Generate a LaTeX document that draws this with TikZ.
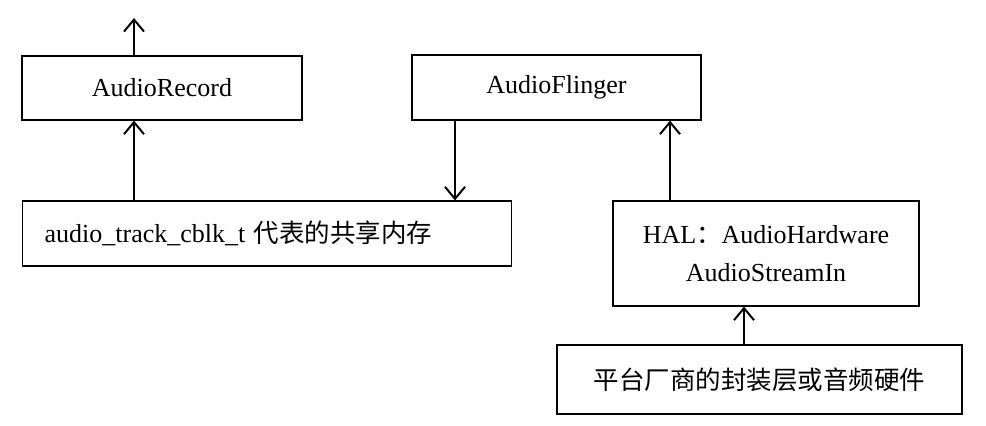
\documentclass[tikz,border=0pt]{standalone}
\usepackage{fontspec}
\setmainfont{Liberation Serif}
\newfontfamily\cjk[Scale=0.98]{Noto Sans CJK SC}
\usetikzlibrary{arrows.meta}
\begin{document}
\begin{tikzpicture}[x=1pt,y=-1pt,
  bx/.style={draw,line width=1.2pt,inner sep=0pt,font=\fontsize{26}{38}\selectfont},
  ar/.style={line width=1.6pt,-{Straight Barb[length=12pt,width=20pt,line width=2pt]}}]
\useasboundingbox (0,0) rectangle (986,426);
\node[bx,minimum width=280pt,minimum height=64pt] (rec) at (162,88) {AudioRecord};
\node[bx,minimum width=289pt,minimum height=65pt] (fl) at (556.5,87.5) {AudioFlinger};
\node[bx,minimum height=65pt,inner xsep=22pt,text width=445pt,align=left,anchor=west] (shm) at (22,233.5) {audio\_track\_cblk\_t {\cjk 代表的共享内存}};
\node[bx,minimum width=306pt,minimum height=105pt,align=center] (hal) at (766,253.5) {HAL{\cjk ：}AudioHardware\\AudioStreamIn};
\node[bx,minimum width=405pt,minimum height=69pt] (pf) at (759.5,379.5) {\cjk 平台厂商的封装层或音频硬件};
\coordinate (top) at (134,18);
\draw[ar] (rec.north -| top) -- (top);
\draw[ar] (shm.north -| top) -- (rec.south -| top);
\coordinate (d) at (455,0);
\draw[ar] (fl.south -| d) -- (shm.north -| d);
\coordinate (h) at (670,0);
\draw[ar] (hal.north -| h) -- (fl.south -| h);
\coordinate (p) at (744,0);
\draw[ar] (pf.north -| p) -- (hal.south -| p);
\end{tikzpicture}
\end{document}
